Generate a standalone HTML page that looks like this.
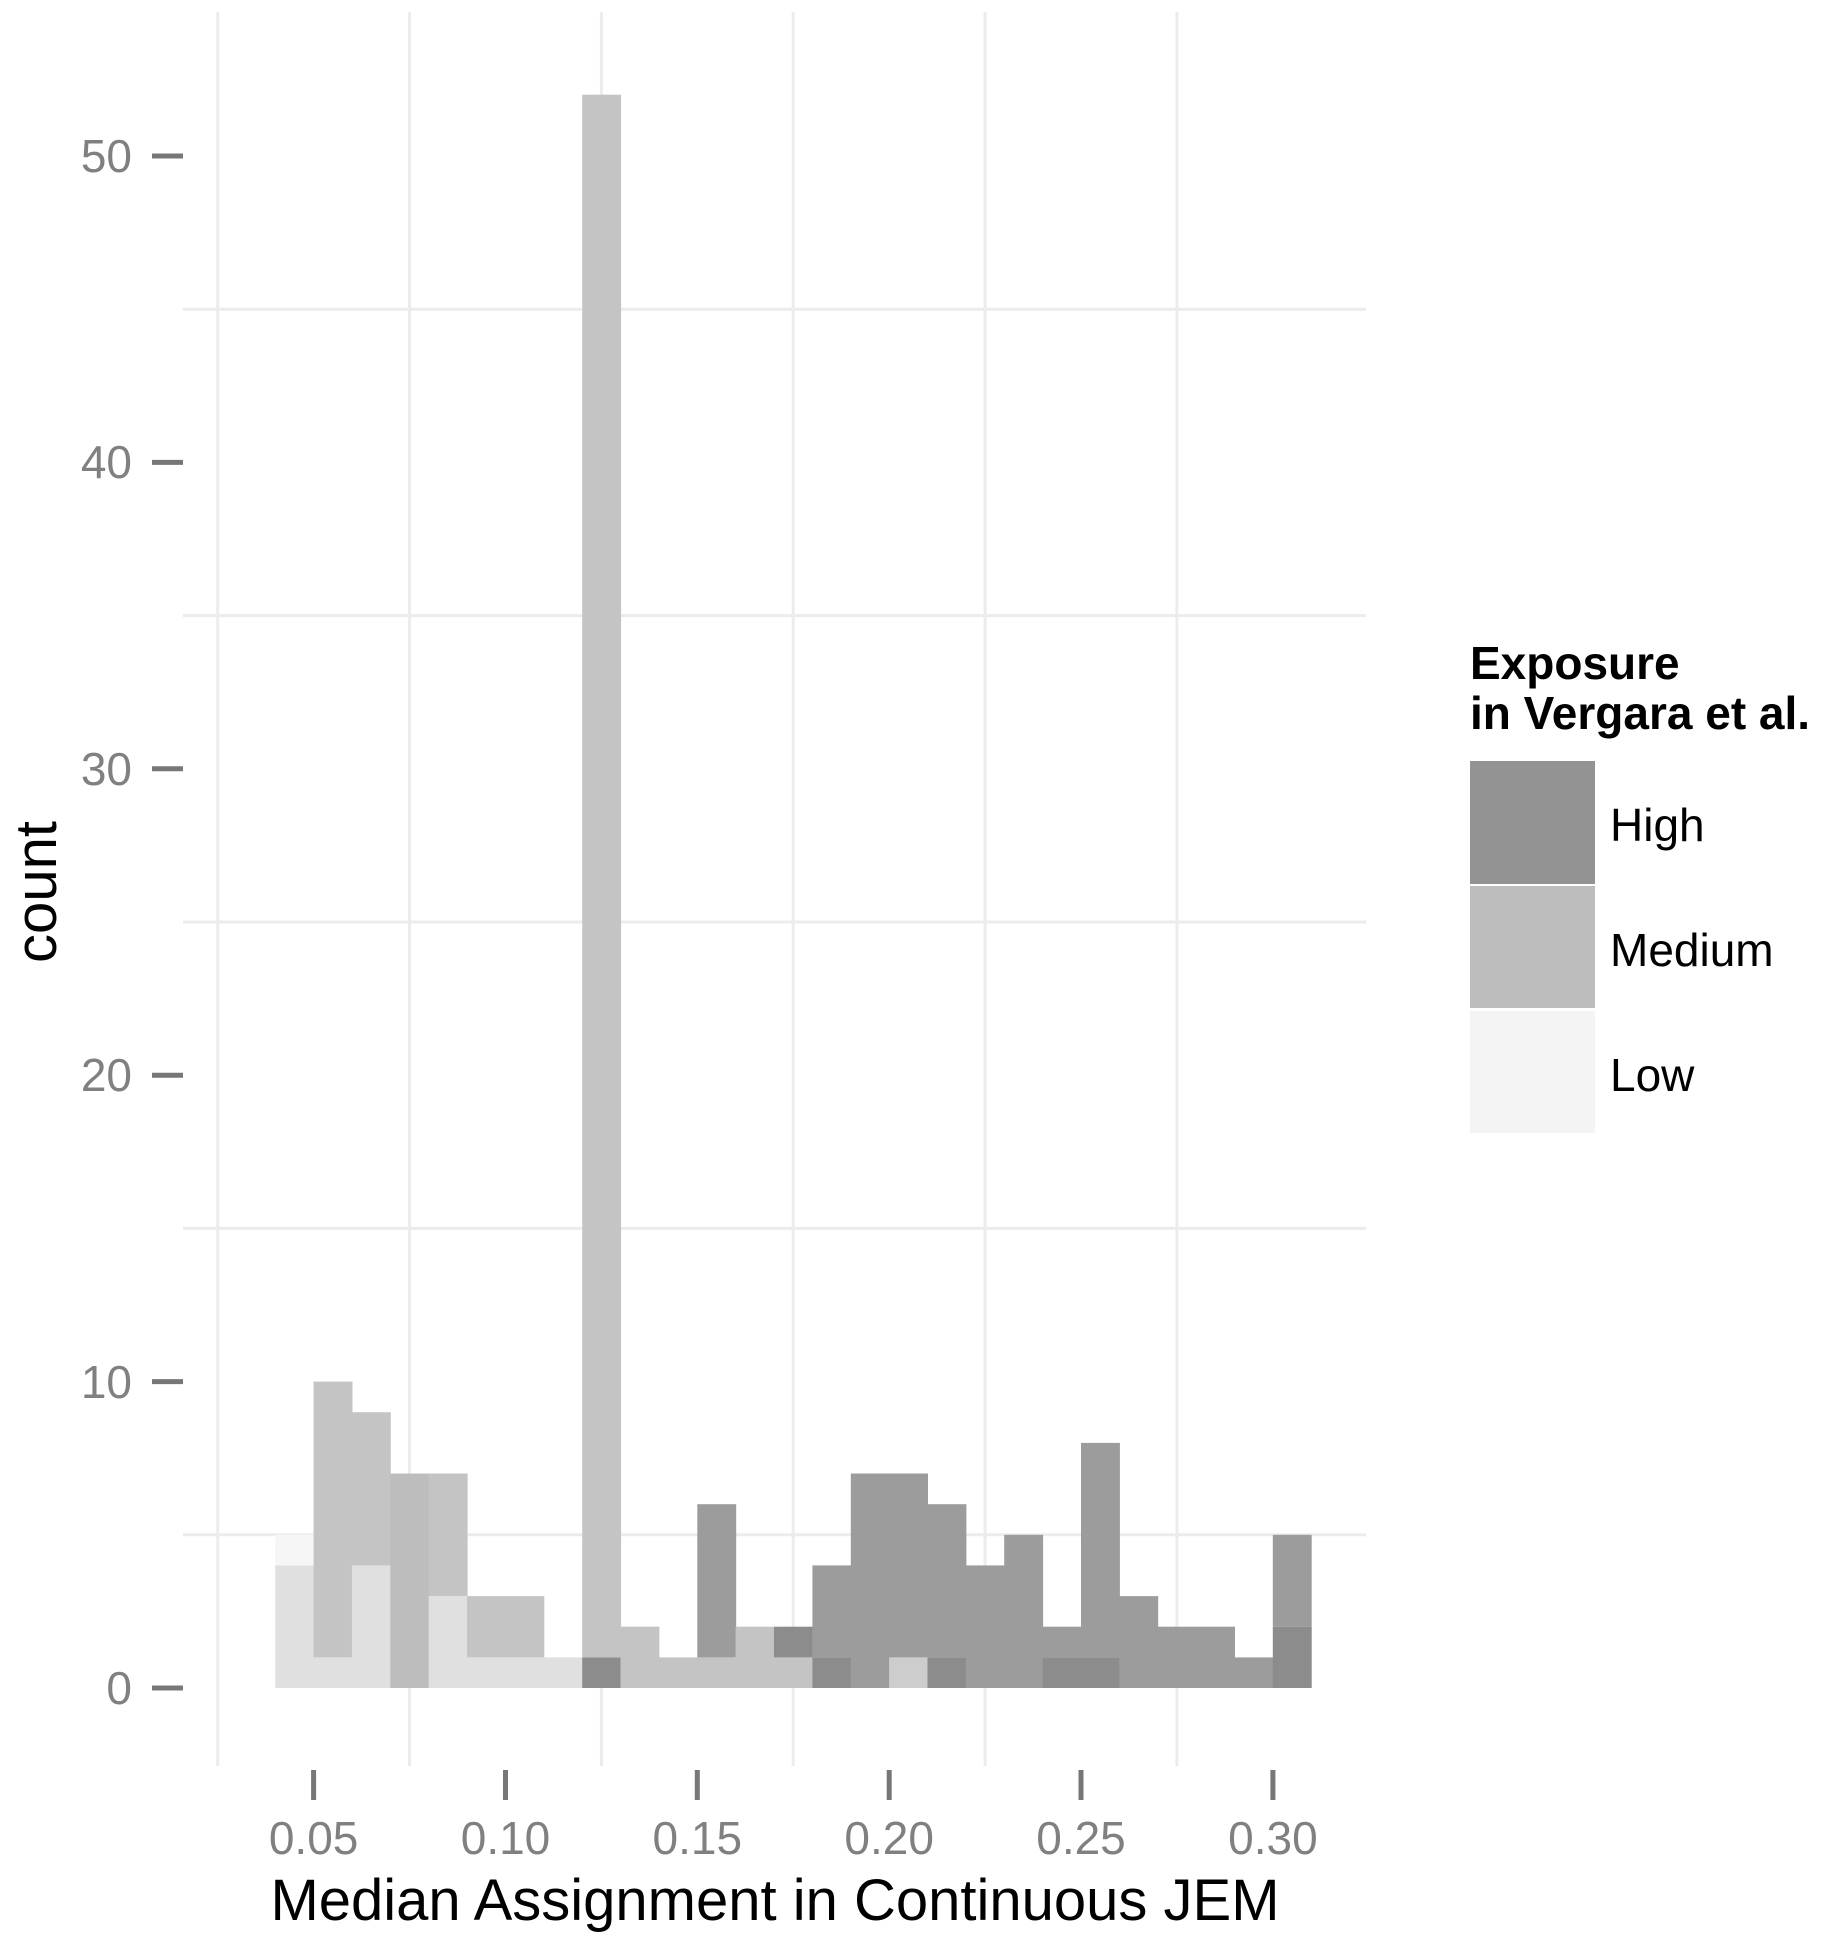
<!DOCTYPE html>
<html><head><meta charset="utf-8"><style>body{margin:0;background:#fff}svg{display:block}</style></head>
<body>
<svg width="1822" height="1943" xmlns="http://www.w3.org/2000/svg" font-family="Liberation Sans, sans-serif">
<rect width="1822" height="1943" fill="#fff"/>
<g stroke="#ececec" stroke-width="3">
<line x1="217.7" y1="12" x2="217.7" y2="1766"/><line x1="409.5" y1="12" x2="409.5" y2="1766"/><line x1="601.4" y1="12" x2="601.4" y2="1766"/><line x1="793.2" y1="12" x2="793.2" y2="1766"/><line x1="985.1" y1="12" x2="985.1" y2="1766"/><line x1="1176.9" y1="12" x2="1176.9" y2="1766"/>
<line x1="183" y1="1534.8" x2="1366" y2="1534.8"/><line x1="183" y1="1228.4" x2="1366" y2="1228.4"/><line x1="183" y1="922" x2="1366" y2="922"/><line x1="183" y1="615.6" x2="1366" y2="615.6"/><line x1="183" y1="309.2" x2="1366" y2="309.2"/>
</g>
<g>
<rect x="275.2" y="1565.4" width="38.9" height="122.6" fill="#e0e0e0"/>
<rect x="275.2" y="1534.8" width="38.9" height="30.6" fill="#f6f6f6"/>
<rect x="313.6" y="1657.4" width="38.9" height="30.6" fill="#e0e0e0"/>
<rect x="313.6" y="1381.6" width="38.9" height="275.8" fill="#c4c4c4"/>
<rect x="351.9" y="1565.4" width="38.9" height="122.6" fill="#e0e0e0"/>
<rect x="351.9" y="1412.2" width="38.9" height="153.2" fill="#c4c4c4"/>
<rect x="390.3" y="1473.5" width="38.9" height="214.5" fill="#bdbdbd"/>
<rect x="428.7" y="1596.1" width="38.9" height="91.9" fill="#e0e0e0"/>
<rect x="428.7" y="1473.5" width="38.9" height="122.6" fill="#c4c4c4"/>
<rect x="467.1" y="1657.4" width="38.9" height="30.6" fill="#e0e0e0"/>
<rect x="467.1" y="1596.1" width="38.9" height="61.3" fill="#c4c4c4"/>
<rect x="505.4" y="1657.4" width="38.9" height="30.6" fill="#e0e0e0"/>
<rect x="505.4" y="1596.1" width="38.9" height="61.3" fill="#c4c4c4"/>
<rect x="543.8" y="1657.4" width="38.9" height="30.6" fill="#e0e0e0"/>
<rect x="582.2" y="1657.4" width="38.9" height="30.6" fill="#8c8c8c"/>
<rect x="582.2" y="94.7" width="38.9" height="1562.7" fill="#c4c4c4"/>
<rect x="620.5" y="1626.7" width="38.9" height="61.3" fill="#c4c4c4"/>
<rect x="658.9" y="1657.4" width="38.9" height="30.6" fill="#c4c4c4"/>
<rect x="697.3" y="1657.4" width="38.9" height="30.6" fill="#c4c4c4"/>
<rect x="697.3" y="1504.2" width="38.9" height="153.2" fill="#9c9c9c"/>
<rect x="735.6" y="1626.7" width="38.9" height="61.3" fill="#c4c4c4"/>
<rect x="774.0" y="1657.4" width="38.9" height="30.6" fill="#c4c4c4"/>
<rect x="774.0" y="1626.7" width="38.9" height="30.7" fill="#8c8c8c"/>
<rect x="812.4" y="1657.4" width="38.9" height="30.6" fill="#8c8c8c"/>
<rect x="812.4" y="1565.4" width="38.9" height="92" fill="#9c9c9c"/>
<rect x="850.8" y="1473.5" width="38.9" height="214.5" fill="#9c9c9c"/>
<rect x="889.1" y="1657.4" width="38.9" height="30.6" fill="#cdcdcd"/>
<rect x="889.1" y="1473.5" width="38.9" height="183.9" fill="#9c9c9c"/>
<rect x="927.5" y="1657.4" width="38.9" height="30.6" fill="#8c8c8c"/>
<rect x="927.5" y="1504.2" width="38.9" height="153.2" fill="#9c9c9c"/>
<rect x="965.9" y="1565.4" width="38.9" height="122.6" fill="#9c9c9c"/>
<rect x="1004.2" y="1534.8" width="38.9" height="153.2" fill="#9c9c9c"/>
<rect x="1042.6" y="1657.4" width="38.9" height="30.6" fill="#8c8c8c"/>
<rect x="1042.6" y="1626.7" width="38.9" height="30.7" fill="#9c9c9c"/>
<rect x="1081.0" y="1657.4" width="38.9" height="30.6" fill="#8c8c8c"/>
<rect x="1081.0" y="1442.9" width="38.9" height="214.5" fill="#9c9c9c"/>
<rect x="1119.3" y="1596.1" width="38.9" height="91.9" fill="#9c9c9c"/>
<rect x="1157.7" y="1626.7" width="38.9" height="61.3" fill="#9c9c9c"/>
<rect x="1196.1" y="1626.7" width="38.9" height="61.3" fill="#9c9c9c"/>
<rect x="1234.5" y="1657.4" width="38.9" height="30.6" fill="#9c9c9c"/>
<rect x="1272.8" y="1626.7" width="38.9" height="61.3" fill="#8c8c8c"/>
<rect x="1272.8" y="1534.8" width="38.9" height="91.9" fill="#9c9c9c"/>
</g>
<g stroke="#777" stroke-width="5">
<line x1="152" y1="1688" x2="183" y2="1688"/><line x1="152" y1="1381.6" x2="183" y2="1381.6"/><line x1="152" y1="1075.2" x2="183" y2="1075.2"/><line x1="152" y1="768.8" x2="183" y2="768.8"/><line x1="152" y1="462.4" x2="183" y2="462.4"/><line x1="152" y1="156" x2="183" y2="156"/>
<line x1="313.6" y1="1770" x2="313.6" y2="1800"/><line x1="505.5" y1="1770" x2="505.5" y2="1800"/><line x1="697.3" y1="1770" x2="697.3" y2="1800"/><line x1="889.2" y1="1770" x2="889.2" y2="1800"/><line x1="1081" y1="1770" x2="1081" y2="1800"/><line x1="1272.9" y1="1770" x2="1272.9" y2="1800"/>
</g>
<g fill="#808080" font-size="46" text-anchor="end">
<text x="132" y="1704">0</text><text x="132" y="1398">10</text><text x="132" y="1091">20</text><text x="132" y="785">30</text><text x="132" y="478">40</text><text x="132" y="172">50</text>
</g>
<g fill="#808080" font-size="46" text-anchor="middle">
<text x="313.6" y="1854">0.05</text><text x="505.5" y="1854">0.10</text><text x="697.3" y="1854">0.15</text><text x="889.2" y="1854">0.20</text><text x="1081" y="1854">0.25</text><text x="1272.9" y="1854">0.30</text>
</g>
<text x="775" y="1920" font-size="58" text-anchor="middle" fill="#000">Median Assignment in Continuous JEM</text>
<text transform="translate(56,892) rotate(-90)" font-size="58" text-anchor="middle" fill="#000">count</text>
<text x="1470" y="679" font-size="46" font-weight="bold">Exposure</text>
<text x="1470" y="729" font-size="46" font-weight="bold">in Vergara et al.</text>
<rect x="1470" y="761" width="125" height="123" fill="#939393"/>
<rect x="1470" y="886" width="125" height="122" fill="#bdbdbd"/>
<rect x="1470" y="1011" width="125" height="122" fill="#f4f4f4"/>
<g font-size="46" fill="#000"><text x="1610" y="841">High</text><text x="1610" y="966">Medium</text><text x="1610" y="1091">Low</text></g>
</svg>
</body></html>
